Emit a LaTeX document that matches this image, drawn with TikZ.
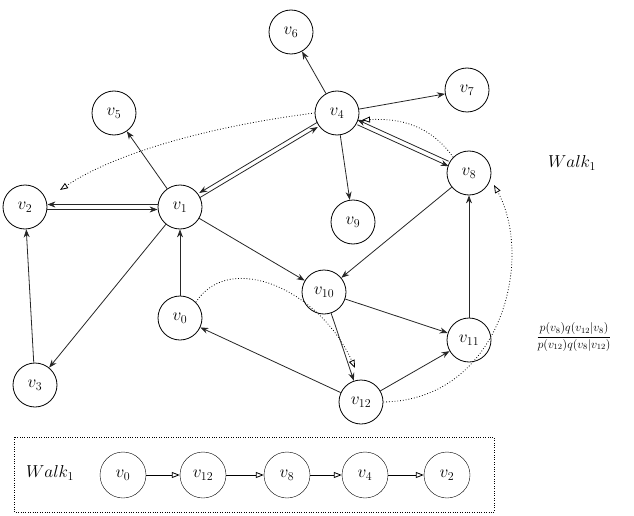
\documentclass[tikz,border=0pt]{standalone}
\usetikzlibrary{arrows.meta}
\begin{document}
\begin{tikzpicture}[x=1pt,y=-1pt,
 v/.style={circle,draw,thick,minimum size=44pt,inner sep=0pt,font=\LARGE},
 s/.style={circle,draw,minimum size=46pt,inner sep=0pt,font=\LARGE},
 e/.style={-{Stealth[length=8pt]},thick,draw=black!85},
 d/.style={dotted,thick,-{Triangle[open,length=8pt,width=6pt]}},
 w/.style={thick,-{Triangle[open,length=8pt,width=6pt]}}]
\useasboundingbox (0,0) rectangle (634,516);
\node[v] (v6) at (291,32) {$v_6$};
\node[v] (v7) at (467,90) {$v_7$};
\node[v] (v5) at (114,113) {$v_5$};
\node[v] (v4) at (337,113) {$v_4$};
\node[v] (v8) at (469,173) {$v_8$};
\node[v] (v2) at (25,207) {$v_2$};
\node[v] (v1) at (180,207) {$v_1$};
\node[v] (v9) at (353,222) {$v_9$};
\node[v] (v10) at (324,292) {$v_{10}$};
\node[v] (v0) at (180,318) {$v_0$};
\node[v] (v11) at (469,340) {$v_{11}$};
\node[v] (v3) at (35,385) {$v_3$};
\node[v] (v12) at (361,402) {$v_{12}$};
\draw[e] (v4)--(v6); \draw[e] (v4)--(v7); \draw[e] (v4)--(v9);
\draw[e,transform canvas={yshift=-2.5pt}] (v4)--(v8);
\draw[e,transform canvas={yshift=2.5pt}] (v8)--(v4);
\draw[e,transform canvas={yshift=-2.5pt}] (v1)--(v4);
\draw[e,transform canvas={yshift=2.5pt}] (v4)--(v1);
\draw[e,transform canvas={yshift=-2.5pt}] (v2)--(v1);
\draw[e,transform canvas={yshift=2.5pt}] (v1)--(v2);
\draw[e] (v1)--(v5); \draw[e] (v1)--(v3); \draw[e] (v1)--(v10);
\draw[e] (v0)--(v1); \draw[e] (v3)--(v2); \draw[e] (v8)--(v10);
\draw[e] (v10)--(v11); \draw[e] (v10)--(v12); \draw[e] (v12)--(v11);
\draw[e] (v11)--(v8); \draw[e] (v12)--(v0);
\draw[d] (v4.west) .. controls (220,125) and (120,150) .. (60,190);
\draw[d] (v0.north east) .. controls (230,250) and (320,290) .. (355,368);
\draw[d] (v12.east) .. controls (500,400) and (535,260) .. (494,185);
\draw[d] (v8.north west) .. controls (430,125) and (400,118) .. (362,120);
\node[font=\LARGE] (wl) at (572,163) {$Walk_1$};
\node[font=\large] (fr) at (574,337) {$\displaystyle\frac{p(v_8)q(v_{12}|v_8)}{p(v_{12})q(v_8|v_{12})}$};
\draw[dotted] (14,437) rectangle (494,512);
\node[font=\LARGE] (wb) at (50,473) {$Walk_1$};
\node[s] (a) at (123,475) {$v_0$};
\node[s] (b) at (203,475) {$v_{12}$};
\node[s] (c) at (287,475) {$v_8$};
\node[s] (f) at (365,475) {$v_4$};
\node[s] (g) at (447,475) {$v_2$};
\draw[w] (a)--(b); \draw[w] (b)--(c); \draw[w] (c)--(f); \draw[w] (f)--(g);
\end{tikzpicture}
\end{document}
